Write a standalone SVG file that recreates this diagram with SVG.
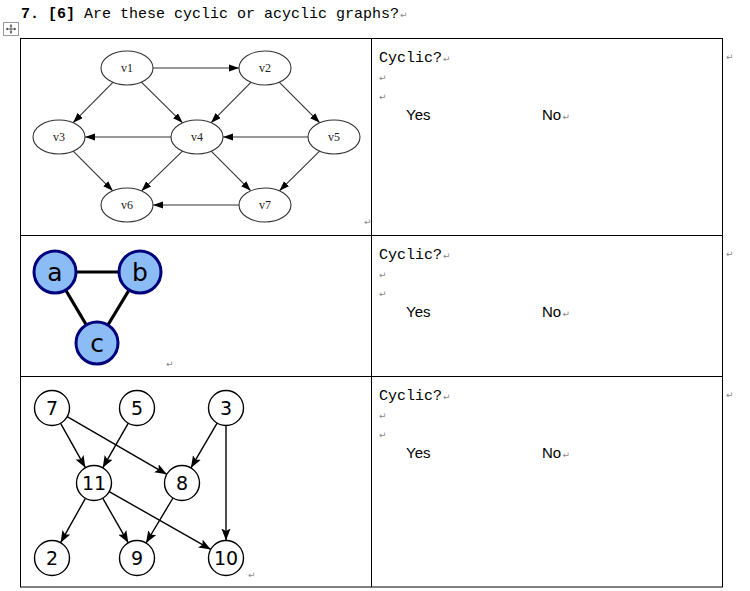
<svg xmlns="http://www.w3.org/2000/svg" width="750" height="591" viewBox="0 0 750 591">
<style>
.hdr{font-family:"Liberation Mono",monospace;font-size:15px;fill:#000}
.mono{font-family:"Liberation Mono",monospace;font-size:15px;fill:#000}
.sans{font-family:"Liberation Sans",Arial,sans-serif;font-size:15px;fill:#000}
.ret{font-family:"DejaVu Sans",sans-serif;font-size:9px;fill:#888}
.tbl{stroke:#000;stroke-width:1;fill:none}
.ell{fill:#fff;stroke:#333;stroke-width:1.1}
.elab{font-family:"Liberation Serif",serif;font-size:12px;fill:#222;text-anchor:middle}
.e1{stroke:#333;stroke-width:1.1;fill:none;marker-end:url(#ah1)}
.und{stroke:#000;stroke-width:3.2}
.bn{fill:#8cbcf6;stroke:#00007a;stroke-width:3}
.blab{font-family:"DejaVu Sans",sans-serif;font-size:25px;fill:#000;text-anchor:middle}
.cn{fill:#fff;stroke:#000;stroke-width:1.4}
.clab{font-family:"DejaVu Sans",sans-serif;font-size:19px;fill:#000;text-anchor:middle}
.e3{stroke:#000;stroke-width:1.4;fill:none;marker-end:url(#ah3)}
</style>
<defs>
<marker id="ah1" markerUnits="userSpaceOnUse" markerWidth="11" markerHeight="8" refX="10" refY="3.6" orient="auto">
<path d="M0,0 L10,3.6 L0,7.2 z" fill="#000"/>
</marker>
<marker id="ah3" markerUnits="userSpaceOnUse" markerWidth="13" markerHeight="10" refX="12" refY="4.6" orient="auto">
<path d="M0,0 L12,4.6 L0,9.2 L2.5,4.6 z" fill="#000"/>
</marker>
</defs>
<rect width="750" height="591" fill="#fff"/>

<text class="hdr" x="21" y="18"><tspan font-weight="bold">7. [6]</tspan> Are these cyclic or acyclic graphs?</text>
<text class="ret" x="400" y="18">↵</text>

<g id="move-handle">
<rect x="3.5" y="22.5" width="15" height="13" fill="#fff" stroke="#999" stroke-width="1"/>
<path d="M6,29 L16,29 M11,24.5 L11,33.5" stroke="#555" stroke-width="1"/>
<path d="M6,29 L8,27.5 L8,30.5 z M16,29 L14,27.5 L14,30.5 z M11,24.5 L9.5,26.5 L12.5,26.5 z M11,33.5 L9.5,31.5 L12.5,31.5 z" fill="#555"/>
</g>

<g id="table">
<rect class="tbl" x="20.5" y="38.5" width="702" height="548.5"/>
<line class="tbl" x1="371.5" y1="38.5" x2="371.5" y2="587"/>
<line class="tbl" x1="20.5" y1="235.5" x2="722.5" y2="235.5"/>
<line class="tbl" x1="20.5" y1="376.5" x2="722.5" y2="376.5"/>
</g>

<g id="answers">
<text class="mono" x="379" y="62">Cyclic?</text><text class="ret" x="443" y="62">↵</text>
<text class="ret" x="379" y="81">↵</text><text class="ret" x="379" y="100">↵</text>
<text class="sans" x="406" y="120">Yes</text><text class="sans" x="542" y="120">No</text><text class="ret" x="562.5" y="120">↵</text>
<text class="ret" x="726" y="60">↵</text>

<text class="mono" x="379" y="259">Cyclic?</text><text class="ret" x="443" y="259">↵</text>
<text class="ret" x="379" y="278">↵</text><text class="ret" x="379" y="297">↵</text>
<text class="sans" x="406" y="317">Yes</text><text class="sans" x="542" y="317">No</text><text class="ret" x="562.5" y="317">↵</text>
<text class="ret" x="726" y="257">↵</text>

<text class="mono" x="379" y="400">Cyclic?</text><text class="ret" x="443" y="400">↵</text>
<text class="ret" x="379" y="419">↵</text><text class="ret" x="379" y="438">↵</text>
<text class="sans" x="406" y="458">Yes</text><text class="sans" x="542" y="458">No</text><text class="ret" x="562.5" y="458">↵</text>
<text class="ret" x="726" y="398">↵</text>

<text class="ret" x="364" y="225">↵</text>
<text class="ret" x="166" y="367">↵</text>
<text class="ret" x="248" y="578">↵</text>
</g>

<!-- Graph 1 -->
<g id="g1-edges">
<line class="e1" x1="153" y1="68" x2="239" y2="68"/>
<line class="e1" x1="112.9" y1="82.3" x2="73.1" y2="122.7"/>
<line class="e1" x1="141.4" y1="82.2" x2="182.6" y2="122.8"/>
<line class="e1" x1="250.9" y1="82.3" x2="211.1" y2="122.7"/>
<line class="e1" x1="279.2" y1="82.2" x2="319.8" y2="122.8"/>
<line class="e1" x1="171" y1="137" x2="85" y2="137"/>
<line class="e1" x1="308" y1="137" x2="223" y2="137"/>
<line class="e1" x1="73.2" y1="151.2" x2="112.8" y2="190.8"/>
<line class="e1" x1="182.5" y1="151.1" x2="141.5" y2="190.9"/>
<line class="e1" x1="211.2" y1="151.2" x2="250.8" y2="190.8"/>
<line class="e1" x1="319.6" y1="151.2" x2="279.4" y2="190.8"/>
<line class="e1" x1="239" y1="205" x2="153" y2="205"/>
</g>
<g id="v1"><ellipse class="ell" cx="127" cy="68" rx="26" ry="17"/><text class="elab" x="127" y="72">v1</text></g>
<g id="v2"><ellipse class="ell" cx="265" cy="68" rx="26" ry="17"/><text class="elab" x="265" y="72">v2</text></g>
<g id="v3"><ellipse class="ell" cx="59" cy="137" rx="26" ry="17"/><text class="elab" x="59" y="141">v3</text></g>
<g id="v4"><ellipse class="ell" cx="197" cy="137" rx="26" ry="17"/><text class="elab" x="197" y="141">v4</text></g>
<g id="v5"><ellipse class="ell" cx="334" cy="137" rx="26" ry="17"/><text class="elab" x="334" y="141">v5</text></g>
<g id="v6"><ellipse class="ell" cx="127" cy="205" rx="26" ry="17"/><text class="elab" x="127" y="209">v6</text></g>
<g id="v7"><ellipse class="ell" cx="265" cy="205" rx="26" ry="17"/><text class="elab" x="265" y="209">v7</text></g>

<!-- Graph 2 -->
<g id="g2-edges">
<line class="und" x1="55" y1="272" x2="140" y2="272"/>
<line class="und" x1="55" y1="272" x2="97" y2="343"/>
<line class="und" x1="140" y1="272" x2="97" y2="343"/>
</g>
<g id="a"><circle class="bn" cx="55" cy="272" r="21"/><text class="blab" x="55" y="281">a</text></g>
<g id="b"><circle class="bn" cx="140" cy="272" r="21"/><text class="blab" x="140" y="281">b</text></g>
<g id="c"><circle class="bn" cx="97" cy="343" r="21"/><text class="blab" x="97" y="352">c</text></g>

<!-- Graph 3 -->
<g id="g3-edges">
<line class="e3" x1="60.6" y1="423.3" x2="85.4" y2="467.7"/>
<line class="e3" x1="67.2" y1="416.7" x2="166.8" y2="474.3"/>
<line class="e3" x1="128.3" y1="423.2" x2="102.7" y2="467.8"/>
<line class="e3" x1="217.1" y1="423.1" x2="190.9" y2="467.9"/>
<line class="e3" x1="226" y1="425.5" x2="226" y2="540.5"/>
<line class="e3" x1="85.4" y1="498.3" x2="60.6" y2="542.7"/>
<line class="e3" x1="102.7" y1="498.2" x2="128.3" y2="542.8"/>
<line class="e3" x1="109.2" y1="491.6" x2="210.8" y2="549.4"/>
<line class="e3" x1="173" y1="498" x2="146" y2="543"/>
</g>
<g id="n7"><circle class="cn" cx="52" cy="408" r="17.5"/><text class="clab" x="52" y="415">7</text></g>
<g id="n5"><circle class="cn" cx="137" cy="408" r="17.5"/><text class="clab" x="137" y="415">5</text></g>
<g id="n3"><circle class="cn" cx="226" cy="408" r="17.5"/><text class="clab" x="226" y="415">3</text></g>
<g id="n11"><circle class="cn" cx="94" cy="483" r="17.5"/><text class="clab" x="94" y="490">11</text></g>
<g id="n8"><circle class="cn" cx="182" cy="483" r="17.5"/><text class="clab" x="182" y="490">8</text></g>
<g id="n2"><circle class="cn" cx="52" cy="558" r="17.5"/><text class="clab" x="52" y="565">2</text></g>
<g id="n9"><circle class="cn" cx="137" cy="558" r="17.5"/><text class="clab" x="137" y="565">9</text></g>
<g id="n10"><circle class="cn" cx="226" cy="558" r="17.5"/><text class="clab" x="226" y="565">10</text></g>
</svg>
